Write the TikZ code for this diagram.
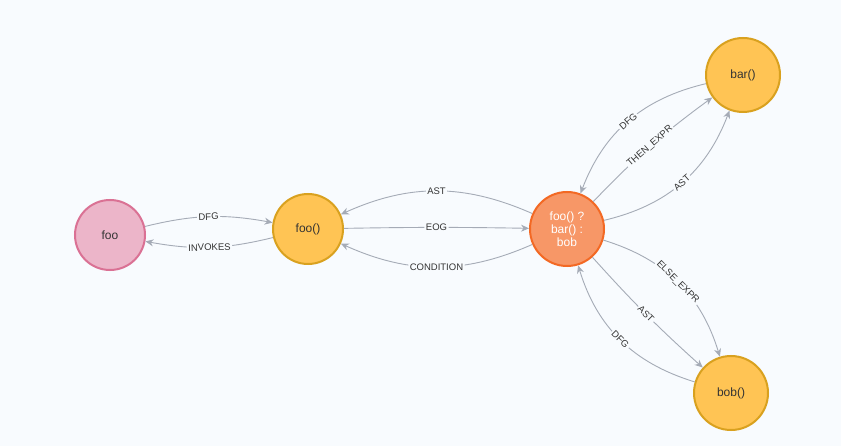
\documentclass[tikz,border=0pt]{standalone}
\usepackage{fontspec}
\setmainfont{Liberation Sans}
\usetikzlibrary{arrows.meta}
\definecolor{bgcol}{HTML}{F8FBFE}
\definecolor{edgecol}{HTML}{A5ABB6}
\definecolor{pinkfill}{HTML}{ECB5C9}
\definecolor{pinkline}{HTML}{DA7194}
\definecolor{yelfill}{HTML}{FFC454}
\definecolor{yelline}{HTML}{D9A11F}
\definecolor{orgfill}{HTML}{F79767}
\definecolor{orgline}{HTML}{F36924}
\definecolor{txtcol}{HTML}{333333}
\tikzset{
  ent/.style={circle, minimum size=70pt, inner sep=0pt, line width=2pt, align=center, font=\fontsize{12}{13}\selectfont, text=txtcol},
  rel/.style={draw=edgecol, line width=0.9pt, -{Stealth[length=8pt,width=7pt]}},
  lbl/.style={sloped, fill=bgcol, inner sep=1.5pt, font=\fontsize{9.5}{10}\selectfont, text=txtcol}
}
\begin{document}
\begin{tikzpicture}[x=1pt,y=-1pt]
    \fill[bgcol] (0,0) rectangle (841,446);
    \useasboundingbox (0,0) rectangle (841,446);
    % Nodes
    \node[ent, fill=pinkfill, draw=pinkline] (foo) at (110,235) {foo};
    \node[ent, fill=yelfill, draw=yelline] (fooCall) at (308,229) {foo()};
    \node[ent, fill=orgfill, draw=orgline, text=white, minimum size=74pt] (cond) at (567,229) {foo() ?\\bar() :\\bob};
    \node[ent, fill=yelfill, draw=yelline, minimum size=74pt] (barCall) at (743,75) {bar()};
    \node[ent, fill=yelfill, draw=yelline, minimum size=74pt] (bobCall) at (731,393) {bob()};
    
    % foo <-> foo()
    \draw[rel] (foo) to[bend left=12] node[lbl] {DFG} (fooCall);
    \draw[rel] (fooCall) to[bend left=12] node[lbl] {INVOKES} (foo);
    
    % foo() <-> conditional
    \draw[rel] (cond) to[bend right=24] node[lbl] {AST} (fooCall);
    \draw[rel] (fooCall) to[bend left=1] node[lbl] {EOG} (cond);
    \draw[rel] (cond) to[bend left=24] node[lbl] {CONDITION} (fooCall);
    
    % conditional <-> bar()
    \draw[rel] (barCall) to[bend right=28] node[lbl] {DFG} (cond);
    \draw[rel] (cond) to[bend left=5] node[lbl] {THEN\_EXPR} (barCall);
    \draw[rel] (cond) to[bend right=28] node[lbl] {AST} (barCall);
    
    % conditional <-> bob()
    \draw[rel] (cond) to[bend left=28] node[lbl] {ELSE\_EXPR} (bobCall);
    \draw[rel] (cond) to[bend right=3] node[lbl] {AST} (bobCall);
    \draw[rel] (bobCall) to[bend left=28] node[lbl] {DFG} (cond);
\end{tikzpicture}
\end{document}
